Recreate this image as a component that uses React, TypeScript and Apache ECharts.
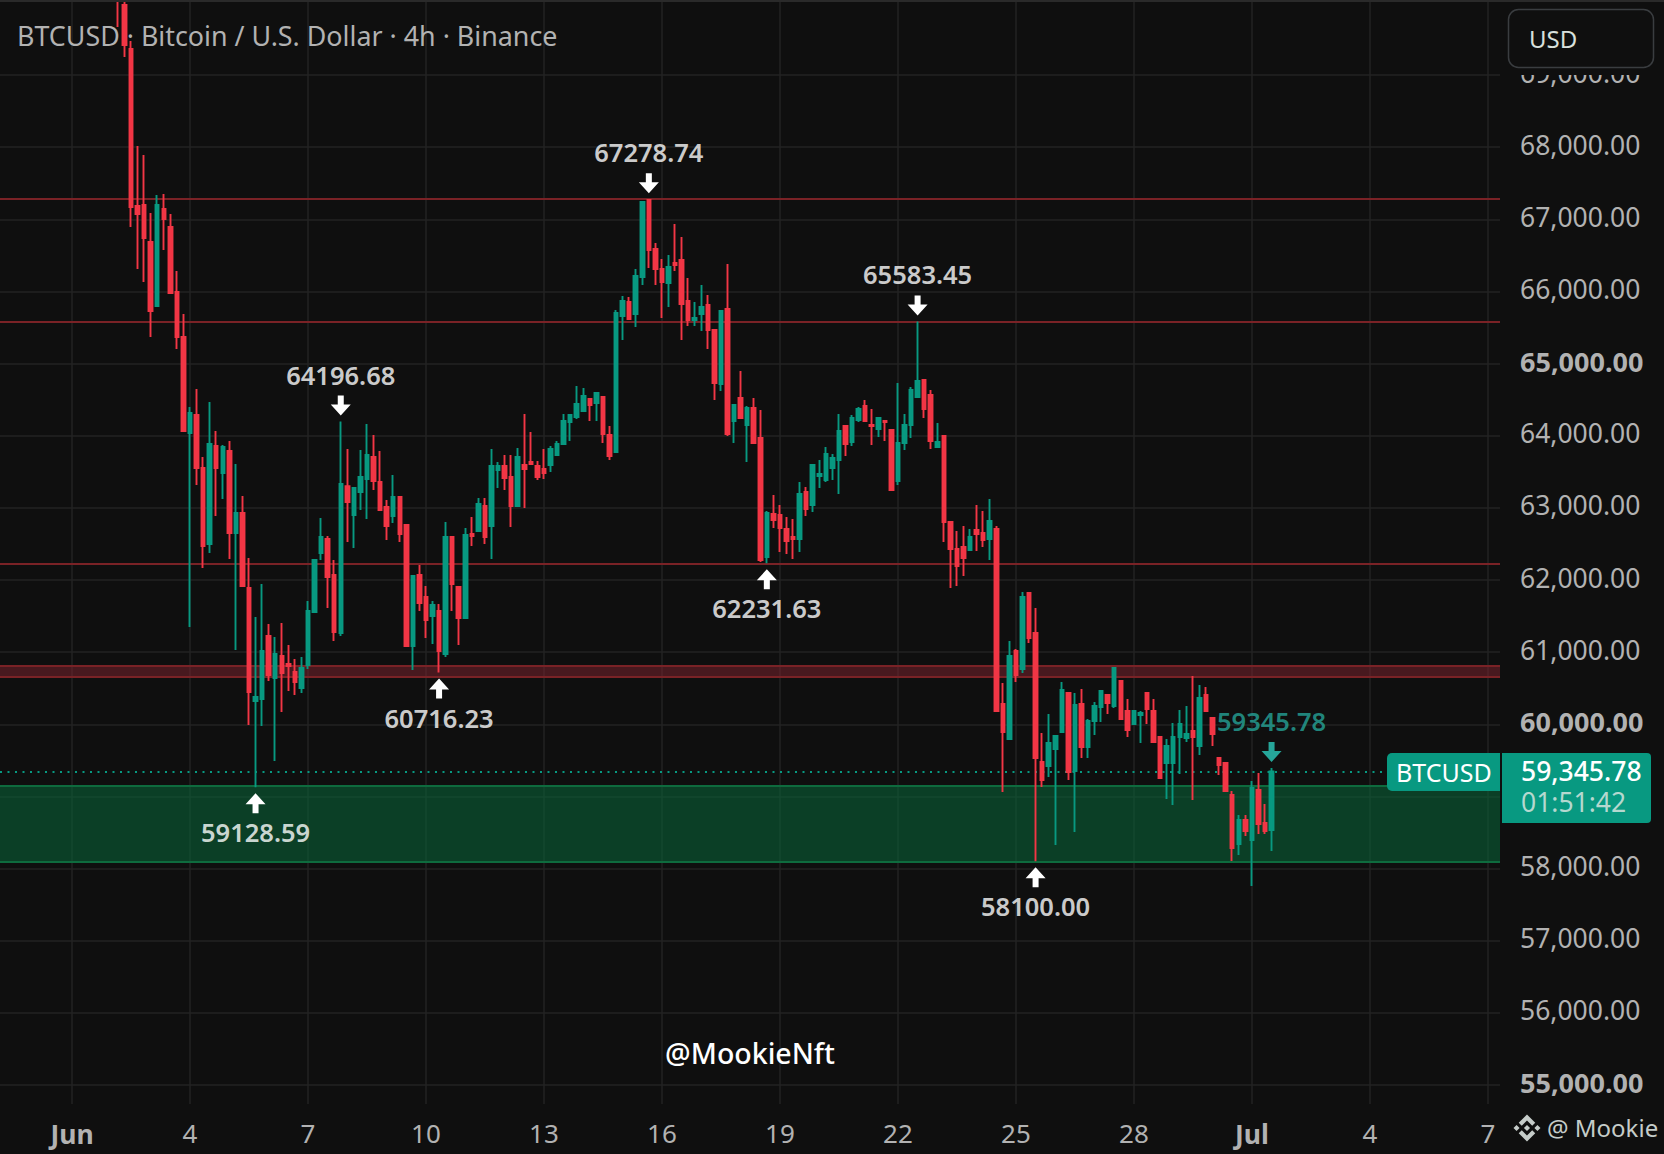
import React, { useEffect, useRef } from "react";
import * as echarts from "echarts";

const FONT = '"Noto Sans", sans-serif';
const UP = "#089981";
const DOWN = "#f23645";

const firstBar = 7;
const opens = [
  70400, 69971, 69361, 67185, 67199, 66686, 65798, 67143, 66894, 65993,
  65368, 64038, 64287, 63552, 62499, 63857, 63483, 63788, 62651, 62929,
  61889, 60323, 60351, 61224, 60642, 60947, 60836, 60725, 60503, 60822,
  61557, 62374, 62568, 62069, 61265, 63302, 62901, 63220, 63400, 63705,
  63358, 63012, 62887, 63150, 62762, 61085, 62069, 61765, 61501, 61570,
  60974, 62596, 61903, 61473, 62638, 62679, 63026, 62748, 63525, 63580,
  63428, 63026, 63594, 63636, 63580, 63539, 63594, 63733, 63885, 64190,
  64259, 64343, 64509, 64453, 64537, 64010, 63774, 65660, 65854, 65687,
  66200, 67268, 66589, 66311, 66117, 66394, 66436, 65867, 65604, 65687,
  65812, 65466, 64717, 65757, 64204, 64523, 64149, 64384, 63968, 62319,
  62915, 62901, 62707, 62596, 62568, 63220, 63039, 63441, 63386, 63552,
  63663, 64135, 63913, 64218, 64412, 64149, 64093, 64204, 64079, 63372,
  63899, 64149, 64537, 64772, 64564, 63843, 63996, 62804, 62430, 62457,
  62416, 62693, 62651, 62568, 62707, 60281, 59796, 61016, 60766, 61820,
  61265, 59477, 59422, 59657, 59893, 60434, 59352, 60281, 59685, 60046,
  60239, 60406, 60253, 60600, 60184, 60004, 60129, 60434, 60184, 59824,
  59463, 59463, 59824, 59810, 59907, 59699, 60406, 60087, 59532, 59463,
  59020, 58340, 58673, 58396, 59089, 58632, 58535,
];
const closes = [
  70060, 69416, 67171, 67074, 66741, 65729, 67199, 67005, 65979, 65368,
  64065, 64315, 63552, 62471, 63885, 63552, 63843, 62651, 62929, 61917,
  60448, 60378, 61016, 60683, 60974, 60711, 60808, 60586, 60780, 61570,
  62277, 62596, 62042, 61279, 63330, 63081, 63275, 63428, 63733, 63372,
  62970, 62748, 63150, 62638, 61085, 62055, 61681, 61446, 61654, 61016,
  62596, 61945, 61473, 62624, 62610, 63053, 62596, 63580, 63580, 63414,
  63026, 63705, 63539, 63608, 63428, 63483, 63816, 63885, 64204, 64287,
  64440, 64550, 64426, 64592, 64024, 63719, 65701, 65868, 65618, 66214,
  67240, 66575, 66311, 66131, 66339, 66366, 65826, 65604, 65632, 65784,
  65466, 64731, 65729, 64024, 64426, 64246, 64384, 63899, 62277, 62929,
  62832, 62721, 62540, 62568, 63192, 62984, 63594, 63469, 63747, 63691,
  64065, 63885, 64246, 64370, 64204, 64135, 64246, 64190, 63248, 63899,
  64149, 64634, 64759, 64370, 63926, 63913, 62804, 62430, 62194, 62305,
  62596, 62638, 62554, 62818, 60184, 59893, 60947, 60683, 61765, 61196,
  59532, 59228, 59741, 59837, 60475, 59338, 60267, 59685, 60046, 60253,
  60461, 60295, 60780, 60073, 59921, 60184, 60156, 60212, 59754, 59255,
  59699, 59824, 60004, 59865, 59824, 60364, 60184, 59865, 59435, 59075,
  58285, 58673, 58521, 59117, 58618, 58521, 59345.78,
];
const lows = [
  69666, 69250, 66894, 66312, 66131, 65368, 65798, 66575, 65979, 65202,
  64065, 61349, 63317, 62166, 62374, 62887, 63123, 62291, 61030, 61917,
  59990, 59128.59, 59976, 60600, 59491, 60170, 60461, 60406, 60434, 60766,
  61557, 62277, 61612, 61154, 61224, 62527, 62443, 62970, 62845, 63248,
  62956, 62554, 62790, 62527, 61085, 60753, 61570, 61196, 61113, 60716.23,
  60933, 61570, 61099, 61473, 62471, 62679, 62499, 62291, 63275, 63248,
  62735, 63026, 62998, 63608, 63386, 63400, 63497, 63733, 63885, 63926,
  64232, 64343, 64204, 64204, 63899, 63663, 63774, 65327, 65604, 65507,
  66089, 66325, 66089, 65632, 65784, 66283, 65327, 65521, 65521, 65452,
  65202, 64495, 64620, 63996, 63899, 64246, 63636, 63899, 62249, 62231.63,
  62721, 62388, 62360, 62291, 62388, 62887, 62942, 63275, 63358, 63386,
  63192, 63719, 63857, 64190, 64190, 63871, 63982, 63926, 63248, 63317,
  63802, 63968, 64537, 64246, 63816, 63843, 62527, 61889, 61917, 62055,
  62402, 62402, 62457, 62277, 60184, 59061, 59796, 60586, 60711, 61127,
  58100, 59131, 59269, 58326, 59893, 59228, 58507, 59532, 59532, 59851,
  60032, 60142, 60226, 60073, 59824, 60004, 59741, 60004, 59754, 59255,
  58964, 58881, 59311, 59754, 58950, 59574, 60184, 59699, 59297, 59075,
  58105, 58188, 58451, 57758, 58479, 58479, 58243,
];
const highs = [
  70500, 70012, 69472, 68016, 67892, 67088, 67337, 67351, 67074, 66283,
  65687, 64398, 64647, 63705, 64467, 64065, 63871, 63926, 63608, 63164,
  62305, 61487, 61945, 61391, 61210, 61404, 61099, 60905, 60933, 61709,
  62277, 62859, 62610, 62277, 64196.68, 63816, 63275, 63802, 64163, 64010,
  63788, 63109, 63456, 63150, 62762, 62055, 62208, 61917, 61709, 61667,
  62804, 62596, 61903, 62721, 62873, 63137, 63137, 63816, 63636, 63733,
  63733, 63830, 64301, 64052, 63650, 63816, 63857, 63926, 64301, 64287,
  64689, 64662, 64509, 64592, 64550, 64135, 65743, 65937, 65923, 66311,
  67254, 67278.74, 66672, 66450, 66505, 66935, 66755, 66186, 65854, 66089,
  65951, 65466, 65743, 66380, 64426, 64897, 64412, 64523, 64357, 62956,
  63178, 63039, 62873, 62845, 63358, 63289, 63594, 63663, 63843, 63747,
  64301, 64135, 64287, 64398, 64495, 64370, 64246, 64204, 64079, 64731,
  64301, 64675, 65583.45, 64772, 64634, 64176, 63996, 62818, 62679, 62748,
  62707, 63039, 62956, 63123, 62748, 60572, 61154, 61043, 61834, 61820,
  61612, 59879, 60142, 59837, 60586, 60434, 60434, 60489, 60073, 60309,
  60461, 60406, 60794, 60600, 60351, 60184, 60184, 60434, 60351, 59824,
  59796, 60018, 60198, 60253, 60669, 60544, 60517, 60087, 59532, 59463,
  59075, 58742, 58742, 59214, 59325, 58895, 59394,
];

const priceTicks = [55000, 56000, 57000, 58000, 59000, 60000, 61000, 62000, 63000, 64000, 65000, 66000, 67000, 68000, 69000];
const priceLabels = [55000, 56000, 57000, 58000, 60000, 61000, 62000, 63000, 64000, 65000, 66000, 67000, 68000, 69000];
const boldPrices = [55000, 60000, 65000];
const xTickBars = [0, 18, 36, 54, 72, 90, 108, 126, 144, 162, 180, 198, 216];
const xTickLabels = ["Jun", "4", "7", "10", "13", "16", "19", "22", "25", "28", "Jul", "4", "7"];

const resistanceLevels = [67278.74, 65583.45, 62231.63];
const redBand = [60808, 60660];
const greenBand = [59145, 58100];
const lastPrice = 59345.78;

const highMarks = [
  { bar: 41, price: 64196.68, text: "64196.68", color: "#ffffff" },
  { bar: 88, price: 67278.74, text: "67278.74", color: "#ffffff" },
  { bar: 129, price: 65583.45, text: "65583.45", color: "#ffffff" },
  { bar: 183, price: 59394, text: "59345.78", color: "#26a69a" },
];
const lowMarks = [
  { bar: 28, price: 59128.59, text: "59128.59", color: "#ffffff" },
  { bar: 56, price: 60716.23, text: "60716.23", color: "#ffffff" },
  { bar: 106, price: 62231.63, text: "62231.63", color: "#ffffff" },
  { bar: 147, price: 58100.0, text: "58100.00", color: "#ffffff" },
];

const ARROW_DOWN = "path://M7 0H13V9H20L10 20L0 9H7Z";
const ARROW_UP = "path://M10 0L20 11H13V20H7V11H0Z";
const BINANCE =
  "M16.624 13.9202l2.7175 2.7154-7.353 7.353-7.353-7.352 2.7175-2.7164 4.6355 4.6595 4.6356-4.6595zm4.6366-4.6366L24 12l-2.7154 2.7164L18.5682 12l2.6924-2.7164zm-9.272.001l2.7163 2.6914-2.7164 2.7174v-.001L9.2721 12l2.7164-2.7154zm-9.2722-.001L5.4088 12l-2.6914 2.6924L0 12l2.7164-2.7164zM11.9885.0115l7.353 7.329-2.7174 2.7154-4.6356-4.6356-4.6355 4.6595-2.7174-2.7154 7.353-7.353z";

const fmtPrice = (v: number) =>
  v.toLocaleString("en-US", { minimumFractionDigits: 2, maximumFractionDigits: 2 });

const txt = (text: string, x: number, y: number, fill: string, fontSize: number, extra: any = {}) => ({
  type: "text",
  x,
  y,
  z: 110,
  silent: true,
  style: { text, fill, fontSize, fontFamily: FONT, textVerticalAlign: "middle", ...extra },
});

export default function App() {
  const ref = useRef<HTMLDivElement>(null);
  useEffect(() => {
    document.body.style.margin = "0";
    document.body.style.background = "#0f0f0f";
    echarts.graphic.registerShape("binanceLogo", echarts.graphic.extendPath(BINANCE, {}) as any);
    const chart = echarts.init(ref.current!, null, { renderer: "svg" });
    const candleData = opens.map((o, i) => [firstBar + i, o, closes[i], lows[i], highs[i]]);
    const markSeries = (marks: any[], symbol: string, arrowDy: number, textDy: number) => [
      {
        type: "scatter",
        z: 6,
        silent: true,
        symbol,
        symbolSize: 20,
        symbolOffset: [0, arrowDy],
        data: marks.map((m) => ({ value: [m.bar, m.price], itemStyle: { color: m.color, opacity: 1 } })),
      },
      {
        type: "scatter",
        z: 6,
        silent: true,
        symbolSize: 1,
        itemStyle: { color: "transparent" },
        data: marks.map((m) => ({
          value: [m.bar, m.price],
          label: {
            show: true,
            position: "inside",
            offset: [0, textDy],
            formatter: m.text,
            color: m.color,
            fontFamily: FONT,
            fontSize: 25.5,
            fontWeight: 600,
          },
        })),
      },
    ];
    chart.setOption({
      animation: false,
      backgroundColor: "#0f0f0f",
      grid: { left: 0, top: 0, width: 1500, height: 1104 },
      xAxis: {
        type: "value",
        min: -72 / 6.555,
        max: (1500 - 72) / 6.555,
        axisLine: { show: false },
        axisTick: { show: false, customValues: xTickBars },
        splitLine: { show: true, lineStyle: { color: "#232323", width: 1.5 } },
        axisLabel: {
          customValues: xTickBars,
          margin: 16,
          color: "#b2b2b2",
          fontFamily: FONT,
          fontSize: 26,
          formatter: (v: number) => {
            const l = xTickLabels[xTickBars.indexOf(v)];
            return l === "Jun" || l === "Jul" ? `{b|${l}}` : `{n|${l}}`;
          },
          rich: {
            b: { fontWeight: 700, color: "#b2b2b2", fontFamily: FONT, fontSize: 26.5 },
            n: { color: "#b2b2b2", fontFamily: FONT, fontSize: 26 },
          },
        },
      },
      yAxis: {
        type: "value",
        position: "right",
        min: 70040 - 1104 * 13.862,
        max: 70040,
        axisLine: { show: false },
        axisTick: { show: false, customValues: priceTicks },
        splitLine: { show: true, lineStyle: { color: "#232323", width: 1.5 } },
        axisLabel: {
          customValues: priceLabels,
          margin: 20,
          color: "#b2b2b2",
          fontFamily: FONT,
          fontSize: 26.5,
          formatter: (v: number) => (boldPrices.includes(v) ? `{b|${fmtPrice(v)}}` : `{n|${fmtPrice(v)}}`),
          rich: {
            b: { fontWeight: 700, color: "#b2b2b2", fontFamily: FONT, fontSize: 27, padding: [0, 0, 5, 0] },
            n: { color: "#b2b2b2", fontFamily: FONT, fontSize: 26.5, padding: [0, 0, 5, 0] },
          },
        },
      },
      series: [
        {
          type: "line",
          z: 2,
          silent: true,
          data: [],
          showSymbol: false,
          markArea: {
            silent: true,
            data: [
              [{ yAxis: redBand[0], itemStyle: { color: "rgba(120,35,45,0.55)" } }, { yAxis: redBand[1] }],
              [{ yAxis: greenBand[0], itemStyle: { color: "rgba(8,105,58,0.53)" } }, { yAxis: greenBand[1] }],
            ],
          },
          markLine: {
            silent: true,
            symbol: "none",
            label: { show: false },
            data: [
              ...resistanceLevels.concat(redBand).map((v) => ({
                yAxis: v,
                lineStyle: { color: "#7a2226", width: 2, type: "solid" },
              })),
              ...greenBand.map((v) => ({
                yAxis: v,
                lineStyle: { color: "#0e6b3e", width: 2, type: "solid" },
              })),
              { yAxis: lastPrice, lineStyle: { color: UP, width: 2, type: [2, 5.5] } },
            ],
          },
        },
        {
          type: "candlestick",
          z: 5,
          silent: true,
          barWidth: 4,
          itemStyle: { color: UP, color0: DOWN, borderColor: UP, borderColor0: DOWN, borderWidth: 1.9 },
          data: candleData,
        },
        ...markSeries(highMarks, ARROW_DOWN, -16, -47),
        ...markSeries(lowMarks, ARROW_UP, 16, 45),
      ],
      graphic: [
        { type: "rect", z: 100, silent: true, shape: { x: 1502, y: 0, width: 162, height: 75 }, style: { fill: "#0f0f0f" } },
        { type: "rect", z: 105, silent: true, shape: { x: 0, y: 0, width: 1664, height: 2 }, style: { fill: "#2a2a2a" } },
        txt("BTCUSD · Bitcoin / U.S. Dollar · 4h · Binance", 17, 35, "#b2b2b2", 26.85),
        {
          type: "rect",
          z: 105,
          silent: true,
          shape: { x: 1508.5, y: 9.5, width: 145, height: 58, r: 10 },
          style: { fill: "#0f0f0f", stroke: "#3a3d40", lineWidth: 1.5 },
        },
        txt("USD", 1529, 38, "#d8e0dc", 24),
        {
          type: "rect",
          z: 105,
          silent: true,
          shape: { x: 1387, y: 753, width: 113, height: 38, r: [5, 0, 0, 5] },
          style: { fill: UP },
        },
        txt("BTCUSD", 1396, 772, "#ffffff", 25),
        {
          type: "rect",
          z: 105,
          silent: true,
          shape: { x: 1502, y: 753, width: 149, height: 70, r: [0, 4, 4, 0] },
          style: { fill: UP },
        },
        txt("59,345.78", 1521, 771, "#ffffff", 26.5, { fontWeight: 500 }),
        txt("01:51:42", 1521, 802, "#b5d8cf", 26.5),
        txt("@MookieNft", 750, 1053, "#ffffff", 28.5, { textAlign: "center", fontWeight: 500 }),
        {
          type: "binanceLogo",
          z: 110,
          silent: true,
          x: 1513.5,
          y: 1114.5,
          scaleX: 1.125,
          scaleY: 1.125,
          style: { fill: "#c5ccc9" },
        },
        txt("@ Mookie", 1547, 1127, "#c5ccc9", 24),
      ],
    });
    return () => chart.dispose();
  }, []);
  return <div ref={ref} style={{ position: "absolute", left: 0, top: 0, width: 1664, height: 1154 }} />;
}
